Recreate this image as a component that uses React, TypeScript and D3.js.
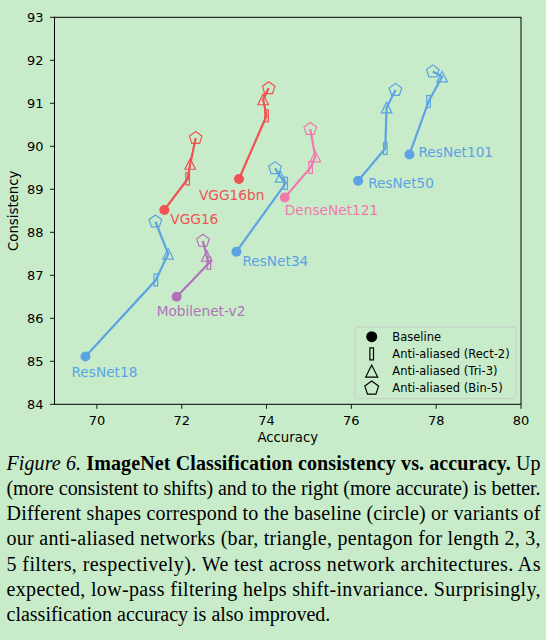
import React from "react";
import * as d3 from "d3";

const models = ["ResNet18", "ResNet34", "ResNet50", "ResNet101", "VGG16", "VGG16bn", "DenseNet121", "Mobilenet-v2"];
const baselineAcc = [69.73, 73.29, 76.16, 77.37, 71.59, 73.35, 74.43, 71.88];
const baselineCons = [85.11, 87.55, 89.20, 89.81, 88.52, 89.24, 88.81, 86.50];
const rect2Acc = [71.39, 74.45, 76.80, 77.82, 72.14, 74.00, 75.04, 72.64];
const rect2Cons = [86.89, 89.14, 89.95, 91.04, 89.24, 90.71, 89.51, 87.28];
const tri3Acc = [71.68, 74.33, 76.83, 78.14, 72.20, 73.92, 75.15, 72.59];
const tri3Cons = [87.50, 89.29, 90.90, 91.62, 89.59, 91.09, 89.76, 87.45];
const bin5Acc = [71.38, 74.20, 77.04, 77.92, 72.33, 74.05, 75.03, 72.50];
const bin5Cons = [88.25, 89.49, 91.31, 91.74, 90.19, 91.35, 90.40, 87.80];

const xTicks = [70, 72, 74, 76, 78, 80];
const yTicks = [84, 85, 86, 87, 88, 89, 90, 91, 92, 93];
const legendLabels = ["Baseline", "Anti-aliased (Rect-2)", "Anti-aliased (Tri-3)", "Anti-aliased (Bin-5)"];

const captionLines = [
  "(more consistent to shifts) and to the right (more accurate) is better.",
  "Different shapes correspond to the baseline (circle) or variants of",
  "our anti-aliased networks (bar, triangle, pentagon for length 2, 3,",
  "5 filters, respectively). We test across network architectures. As",
  "expected, low-pass filtering helps shift-invariance. Surprisingly,",
  "classification accuracy is also improved.",
];

// styles
const BG = "#c8ecca";
const RED = "#f05252";
const BLUE = "#5ba3e3";
const PINK = "#f07aae";
const PURPLE = "#b072b8";
const modelColor: Record<string, string> = {
  ResNet18: BLUE, ResNet34: BLUE, ResNet50: BLUE, ResNet101: BLUE,
  VGG16: RED, VGG16bn: RED, DenseNet121: PINK, "Mobilenet-v2": PURPLE,
};
const labelOffset: Record<string, [number, number]> = {
  ResNet18: [-14, 15], ResNet34: [6, 9], ResNet50: [10, 2], ResNet101: [9, -2],
  VGG16: [6, 9], VGG16bn: [-40, 16], DenseNet121: [0, 13], "Mobilenet-v2": [-20, 14],
};

const W = 546, H = 640;
const L = 54.5, R = 521, T = 17.3, B = 404.3;
const x = d3.scaleLinear().domain([69, 80]).range([L, R]);
const y = d3.scaleLinear().domain([84, 93]).range([B, T]);

const triPath = (cx: number, cy: number, s = 5.3) =>
  `M${cx},${cy - s}L${cx - s},${cy + s}L${cx + s},${cy + s}Z`;
const pentPath = (cx: number, cy: number, r = 6.6) => {
  const pts = d3.range(5).map((i) => {
    const a = -Math.PI / 2 + (i * 2 * Math.PI) / 5;
    return [cx + r * Math.cos(a), cy + r * Math.sin(a)];
  });
  return "M" + pts.map((p) => p.join(",")).join("L") + "Z";
};

function Marker({ kind, cx, cy, color, big }: { kind: number; cx: number; cy: number; color: string; big?: boolean }) {
  if (kind === 0) return <circle cx={cx} cy={cy} r={big ? 5.5 : 5} fill={color} />;
  if (kind === 1)
    return <rect x={cx - 1.8} y={cy - 6} width={3.6} height={12} fill="none" stroke={color} strokeWidth={1.2} />;
  if (kind === 2) return <path d={triPath(cx, cy, big ? 6 : 5.3)} fill="none" stroke={color} strokeWidth={1.2} />;
  return <path d={pentPath(cx, cy, big ? 7.2 : 6.6)} fill="none" stroke={color} strokeWidth={1.2} />;
}

export default function App() {
  const sans = "DejaVu Sans";
  const serif = "'Liberation Serif', 'Times New Roman', Times, serif";
  const line = d3.line<[number, number]>().x((d) => x(d[0])).y((d) => y(d[1]));
  const capY0 = 469.5, capDy = 25.3;
  return (
    <>
      <style>{`body{margin:0;background:${BG}}`}</style>
      <svg width={W} height={H} style={{ display: "block", background: BG }}>
        <rect x={0} y={0} width={W} height={H} fill={BG} />
        {/* series */}
        {models.map((m, i) => {
          const pts: [number, number][] = [
            [baselineAcc[i], baselineCons[i]],
            [rect2Acc[i], rect2Cons[i]],
            [tri3Acc[i], tri3Cons[i]],
            [bin5Acc[i], bin5Cons[i]],
          ];
          const c = modelColor[m];
          const [dx, dy] = labelOffset[m];
          return (
            <g key={m}>
              <path d={line(pts) || ""} fill="none" stroke={c} strokeWidth={2.2} />
              {pts.map((p, k) => (
                <Marker key={k} kind={k} cx={x(p[0])} cy={y(p[1])} color={c} />
              ))}
              <text
                x={x(pts[0][0]) + dx}
                y={y(pts[0][1]) + dy}
                fill={c}
                fontFamily={sans}
                fontSize={13.7}
                dominantBaseline="central"
              >
                {m}
              </text>
            </g>
          );
        })}
        {/* frame */}
        <rect x={L} y={T} width={R - L} height={B - T} fill="none" stroke="#000" strokeWidth={1} />
        {xTicks.map((t) => (
          <g key={"x" + t}>
            <line x1={x(t)} x2={x(t)} y1={B} y2={B + 4.5} stroke="#000" strokeWidth={0.9} />
            <text x={x(t)} y={B + 20.5} textAnchor="middle" fontFamily={sans} fontSize={13} fill="#000">
              {t}
            </text>
          </g>
        ))}
        {yTicks.map((t) => (
          <g key={"y" + t}>
            <line x1={L - 4.5} x2={L} y1={y(t)} y2={y(t)} stroke="#000" strokeWidth={0.9} />
            <text x={L - 11} y={y(t)} textAnchor="end" dominantBaseline="central" fontFamily={sans} fontSize={13} fill="#000">
              {t}
            </text>
          </g>
        ))}
        <text x={(L + R) / 2} y={442} textAnchor="middle" fontFamily={sans} fontSize={13.3} fill="#000">
          Accuracy
        </text>
        <text
          transform={`translate(18,${(T + B) / 2}) rotate(-90)`}
          textAnchor="middle"
          fontFamily={sans}
          fontSize={13.3}
          fill="#000"
        >
          Consistency
        </text>
        {/* legend */}
        <g>
          <rect x={355} y={327} width={161} height={71.5} rx={3} fill={BG} stroke="#c6cec6" strokeWidth={1} />
          {legendLabels.map((lab, k) => {
            const cy = 336.7 + k * 17.2;
            return (
              <g key={lab}>
                <Marker kind={k} cx={371.7} cy={cy} color="#000" big />
                <text x={392.3} y={cy} dominantBaseline="central" fontFamily={sans} fontSize={11.5} fill="#000">
                  {lab}
                </text>
              </g>
            );
          })}
        </g>
        {/* caption */}
        <g fontFamily={serif} fontSize={20} fill="#000">
          <text x={6.5} y={capY0} textLength={534} lengthAdjust="spacing">
            <tspan fontStyle="italic">Figure 6.</tspan>
            <tspan fontWeight="bold"> ImageNet Classification consistency vs. accuracy.</tspan>
            <tspan> Up</tspan>
          </text>
          {captionLines.map((ln, k) => (
            <text
              key={k}
              x={6.5}
              y={capY0 + (k + 1) * capDy}
              {...(k < captionLines.length - 1 ? { textLength: 534, lengthAdjust: "spacing" } : {})}
            >
              {ln}
            </text>
          ))}
        </g>
      </svg>
    </>
  );
}
